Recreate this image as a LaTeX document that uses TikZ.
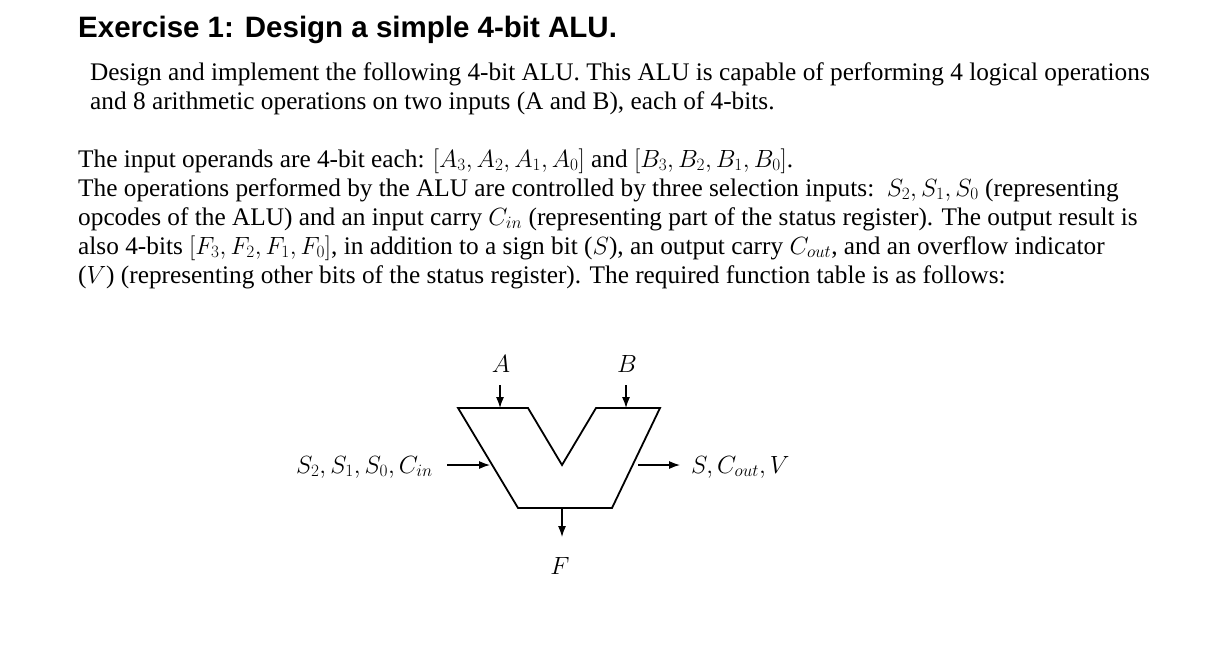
\documentclass[tikz,border=0pt]{standalone}
\usepackage{fontspec}
\setmainfont{Liberation Serif}
\newfontfamily\titlefont{Liberation Sans}
\usetikzlibrary{arrows.meta}
\begin{document}
\begin{tikzpicture}[x=1pt,y=-1pt,
  txt/.style={anchor=base west,inner sep=0pt,font=\fontsize{25.3}{30}\selectfont},
  lbl/.style={inner sep=0pt,font=\fontsize{24}{28}\selectfont},
  arr/.style={-{Latex[length=11pt,width=8pt]},line width=1.2pt}]
\useasboundingbox (0,0) rectangle (1206,664);
\node[anchor=base west,inner sep=0pt,font=\titlefont\bfseries\fontsize{29.5}{34}\selectfont] (title) at (78,37) {Exercise 1: Design a simple 4-bit ALU.};
\node[txt] (l1) at (90,80) {Design and implement the following 4-bit ALU. This ALU is capable of performing 4 logical operations};
\node[txt] (l2) at (90,109) {and 8 arithmetic operations on two inputs (A and B), each of 4-bits.};
\node[txt] (l3) at (78,167) {The input operands are 4-bit each: $[A_3,A_2,A_1,A_0]$ and $[B_3,B_2,B_1,B_0]$.};
\node[txt] (l4) at (78,196) {The operations performed by the ALU are controlled by three selection inputs:\ \ $S_2,S_1,S_0$ (representing};
\node[txt] (l5) at (78,225) {opcodes of the ALU) and an input carry $C_{in}$ (representing part of the status register). The output result is};
\node[txt] (l6) at (78,254) {also 4-bits $[F_3,F_2,F_1,F_0]$, in addition to a sign bit ($S$), an output carry $C_{out}$, and an overflow indicator};
\node[txt] (l7) at (78,283) {($V$) (representing other bits of the status register). The required function table is as follows:};
% ALU
\draw[line width=1.8pt,fill=white] (458,408) -- (528,408) -- (562,465) -- (596,408) -- (660,408) -- (612,508) -- (518,508) -- cycle;
\coordinate (aT) at (500,408); \coordinate (bT) at (626,408);
\coordinate (lE) at (490,465); \coordinate (rE) at (638,465);
\coordinate (fB) at (562,508);
\coordinate (aS) at (500,385); \coordinate (bS) at (626,385);
\coordinate (lS) at (447,465); \coordinate (rS) at (680,465);
\coordinate (fS) at (562,537);
\node[lbl] (A) at (501,364) {$A$};
\node[lbl] (B) at (627,364) {$B$};
\node[lbl] (F) at (560,566) {$F$};
\node[lbl,anchor=east] (S) at (433,467) {$S_2,S_1,S_0,C_{in}$};
\node[lbl,anchor=west] (O) at (691,467) {$S,C_{out},V$};
\draw[arr] (aS) -- (aT);
\draw[arr] (bS) -- (bT);
\draw[arr] (lS) -- (lE);
\draw[arr] (rE) -- (rS);
\draw[arr] (fB) -- (fS);
\end{tikzpicture}
\end{document}
